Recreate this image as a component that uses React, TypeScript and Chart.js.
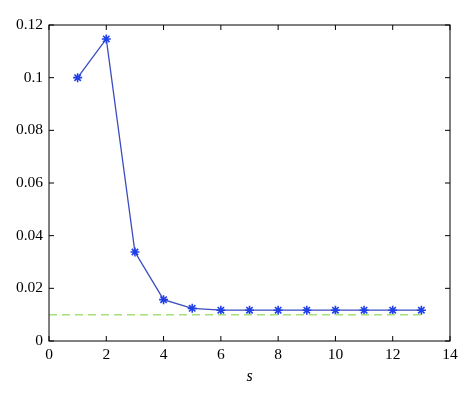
import React, { useEffect, useRef } from 'react';
import { Chart, registerables } from 'chart.js';

Chart.register(...registerables);

const sValues = [1, 2, 3, 4, 5, 6, 7, 8, 9, 10, 11, 12, 13];
const errValues = [0.1, 0.1147, 0.0338, 0.0157, 0.0124, 0.0117, 0.0117, 0.0117, 0.0117, 0.0117, 0.0117, 0.0117, 0.0117];
const thresholdX = [0, 13];
const thresholdY = [0.01, 0.01];
const xTicks = [0, 2, 4, 6, 8, 10, 12, 14];
const yTicks = [0, 0.02, 0.04, 0.06, 0.08, 0.1, 0.12];

const FONT = '"Liberation Serif", "DejaVu Serif", serif';

// box frame and inward ticks on all four sides, matlab style
const boxTicks = {
  id: 'boxTicks',
  afterDraw(chart: any) {
    const { ctx, chartArea: a, scales } = chart;
    const len = 5;
    ctx.save();
    ctx.strokeStyle = '#000';
    ctx.lineWidth = 1;
    ctx.strokeRect(a.left, a.top, a.right - a.left, a.bottom - a.top);
    ctx.beginPath();
    xTicks.forEach((v) => {
      const px = scales.x.getPixelForValue(v);
      ctx.moveTo(px, a.bottom);
      ctx.lineTo(px, a.bottom - len);
      ctx.moveTo(px, a.top);
      ctx.lineTo(px, a.top + len);
    });
    yTicks.forEach((v) => {
      const py = scales.y.getPixelForValue(v);
      ctx.moveTo(a.left, py);
      ctx.lineTo(a.left + len, py);
      ctx.moveTo(a.right, py);
      ctx.lineTo(a.right - len, py);
    });
    ctx.stroke();
    ctx.restore();
  },
};

const App: React.FC = () => {
  const canvasRef = useRef<HTMLCanvasElement>(null);
  const chartRef = useRef<Chart | null>(null);

  useEffect(() => {
    document.body.style.margin = '0';
    if (!canvasRef.current) return;
    if (chartRef.current) chartRef.current.destroy();

    chartRef.current = new Chart(canvasRef.current, {
      type: 'line',
      data: {
        datasets: [
          {
            data: thresholdX.map((x, i) => ({ x, y: thresholdY[i] })),
            borderColor: '#a6e07a',
            borderWidth: 1.5,
            borderDash: [8, 5],
            pointRadius: 0,
            fill: false,
          },
          {
            data: sValues.map((x, i) => ({ x, y: errValues[i] })),
            borderColor: '#3a4cc0',
            borderWidth: 1.3,
            pointStyle: 'star',
            pointRadius: 4.5,
            pointBorderColor: '#1f3fe8',
            pointBorderWidth: 1.6,
            pointBackgroundColor: '#1f3fe8',
            fill: false,
            tension: 0,
          },
        ],
      },
      options: {
        responsive: false,
        animation: false,
        layout: { padding: { top: 25, right: 24, left: 0, bottom: 0 } },
        plugins: { legend: { display: false }, tooltip: { enabled: false } },
        scales: {
          x: {
            type: 'linear',
            min: 0,
            max: 14,
            afterBuildTicks: (s: any) => {
              s.ticks = xTicks.map((v) => ({ value: v }));
            },
            afterFit: (s: any) => {
              s.height = 61;
            },
            grid: { display: false, drawTicks: false },
            border: { display: false },
            ticks: {
              padding: 5,
              color: '#000',
              font: { family: FONT, size: 15.5 },
              maxRotation: 0,
            },
            title: {
              display: true,
              text: 's',
              color: '#000',
              font: { family: FONT, size: 16, style: 'italic' },
              padding: { top: 4, bottom: 16 },
            },
          },
          y: {
            type: 'linear',
            min: 0,
            max: 0.12,
            afterBuildTicks: (s: any) => {
              s.ticks = yTicks.map((v) => ({ value: v }));
            },
            afterFit: (s: any) => {
              s.width = 49;
            },
            grid: { display: false, drawTicks: false },
            border: { display: false },
            ticks: {
              padding: 6,
              color: '#000',
              font: { family: FONT, size: 15.5 },
              callback: (v: any) => String(Math.round(Number(v) * 100) / 100),
            },
          },
        },
      },
      plugins: [boxTicks],
    });

    return () => {
      if (chartRef.current) {
        chartRef.current.destroy();
        chartRef.current = null;
      }
    };
  }, []);

  return (
    <div style={{ width: 474, height: 402, background: '#fff' }}>
      <canvas ref={canvasRef} width={474} height={402} />
    </div>
  );
};

export default App;
